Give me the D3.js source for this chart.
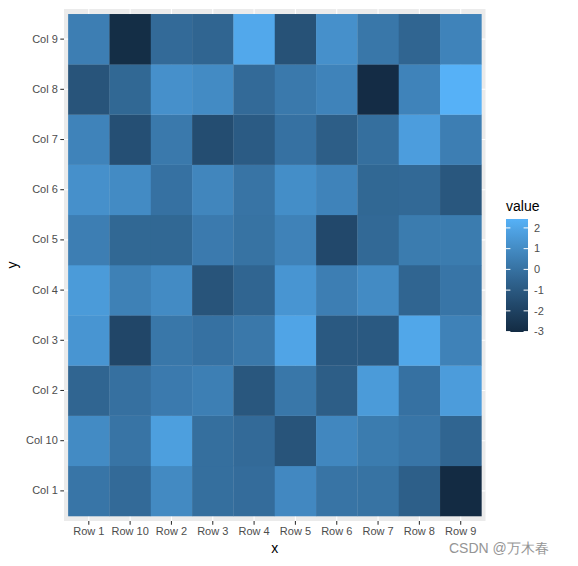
<!DOCTYPE html>
<html><head><meta charset="utf-8">
<script src="https://cdn.jsdelivr.net/npm/d3@7"></script>
<style>body{margin:0;background:#fff;} text{font-family:"Liberation Sans",Arial,Helvetica,sans-serif;}</style>
</head><body>
<svg id="c" width="578" height="566"></svg>
<script>
const xCats = ["Row 1","Row 10","Row 2","Row 3","Row 4","Row 5","Row 6","Row 7","Row 8","Row 9"];
const yCats = ["Col 1","Col 10","Col 2","Col 3","Col 4","Col 5","Col 6","Col 7","Col 8","Col 9"];
// values per y category (row of tiles), ordered like xCats
const colVals = {
  "Col 9":  [0.5,-2.9,-0.3,-0.5,2.1,-1.3,1.2,0.2,-0.5,0.7],
  "Col 8":  [-1.2,-0.4,1.2,1.0,-0.3,0.3,0.7,-2.95,0.7,2.43],
  "Col 7":  [0.7,-1.4,0.3,-1.5,-0.9,0.0,-0.8,-0.1,1.7,0.5],
  "Col 6":  [1.2,1.0,0.0,0.8,0.1,1.1,0.7,-0.4,-0.35,-1.1],
  "Col 5":  [0.5,-0.4,-0.4,0.35,0.05,0.65,-1.7,-0.35,0.4,0.4],
  "Col 4":  [1.6,0.6,1.0,-1.2,-0.5,1.4,0.5,1.0,-0.5,0.15],
  "Col 3":  [1.4,-1.8,0.2,0.0,0.25,1.95,-1.0,-1.0,2.05,0.65],
  "Col 2":  [-0.5,-0.05,0.35,0.55,-1.1,0.2,-0.8,1.6,0.0,1.65],
  "Col 10": [1.0,0.1,1.75,-0.1,-0.3,-1.2,0.85,0.4,0.15,-0.5],
  "Col 1":  [0.15,-0.3,0.95,-0.1,-0.2,0.9,0.1,0.05,-0.75,-3.02]
};
const legendBreaks = [2,1,0,-1,-2,-3];

const data = [];
yCats.forEach(yc => colVals[yc].forEach((v,i) => data.push({x:xCats[i], y:yc, value:v})));

const svg = d3.select("#c");
const L=64, R=485.5, T=9, B=521;
const x = d3.scaleBand().domain(xCats).range([L,R]).paddingInner(0).paddingOuter(0.1);
const y = d3.scaleBand().domain(yCats).range([B,T]).paddingInner(0).paddingOuter(0.1);
const ext = d3.extent(data, d=>d.value);
const color = d3.scaleLinear().domain(ext).range(["#132B43","#56B1F7"]).interpolate(d3.interpolateLab);

// panel
svg.append("rect").attr("x",L).attr("y",T).attr("width",R-L).attr("height",B-T).attr("fill","#EBEBEB");
const g = svg.append("g");
xCats.forEach(c=>g.append("line").attr("x1",x(c)+x.bandwidth()/2).attr("x2",x(c)+x.bandwidth()/2).attr("y1",T).attr("y2",B).attr("stroke","#fff").attr("stroke-width",1.07));
yCats.forEach(c=>g.append("line").attr("y1",y(c)+y.bandwidth()/2).attr("y2",y(c)+y.bandwidth()/2).attr("x1",L).attr("x2",R).attr("stroke","#fff").attr("stroke-width",1.07));

svg.append("g").selectAll("rect").data(data).join("rect")
  .attr("x",d=>x(d.x)).attr("y",d=>y(d.y))
  .attr("width",x.bandwidth()+0.3).attr("height",y.bandwidth()+0.3)
  .attr("fill",d=>color(d.value));

// axes
const xa = svg.append("g").attr("transform",`translate(0,${B})`).call(d3.axisBottom(x).tickSize(3.7).tickPadding(2.5));
const ya = svg.append("g").attr("transform",`translate(${L},0)`).call(d3.axisLeft(y).tickSize(3.7).tickPadding(2.5));
[xa,ya].forEach(a=>{
  a.select(".domain").remove();
  a.selectAll(".tick line").attr("stroke","#333").attr("stroke-width",1.07);
  a.selectAll(".tick text").attr("fill","#4D4D4D").style("font-size","11px");
});
svg.append("text").attr("x",(L+R)/2).attr("y",553).attr("text-anchor","middle").style("font-size","14px").attr("fill","#000").text("x");
svg.append("text").attr("transform",`translate(17,${(T+B)/2}) rotate(-90)`).attr("text-anchor","middle").style("font-size","14px").attr("fill","#000").text("y");

// legend
const lx=506, lw=22, ly0=219, ly1=332;
const ls = d3.scaleLinear().domain(ext).range([ly1,ly0]);
const defs = svg.append("defs");
const grad = defs.append("linearGradient").attr("id","lg").attr("x1",0).attr("x2",0).attr("y1",1).attr("y2",0);
d3.range(0,1.0001,0.05).forEach(t=>grad.append("stop").attr("offset",t).attr("stop-color",color(ext[0]+t*(ext[1]-ext[0]))));
svg.append("rect").attr("x",lx).attr("y",ly0).attr("width",lw).attr("height",ly1-ly0).attr("fill","url(#lg)");
svg.append("text").attr("x",lx).attr("y",211).style("font-size","14px").attr("fill","#000").text("value");
legendBreaks.forEach(b=>{
  const yy = ls(b);
  svg.append("line").attr("x1",lx).attr("x2",lx+4.4).attr("y1",yy).attr("y2",yy).attr("stroke","#fff").attr("stroke-width",1);
  svg.append("line").attr("x1",lx+lw-4.4).attr("x2",lx+lw).attr("y1",yy).attr("y2",yy).attr("stroke","#fff").attr("stroke-width",1);
  svg.append("text").attr("x",lx+lw+6).attr("y",yy).attr("dy","0.35em").style("font-size","11px").attr("fill","#4D4D4D").text(b);
});
svg.append("text").attr("x",449).attr("y",553).attr("text-anchor","start").style("font-size","14px").attr("fill","#8a8a8a").attr("opacity",0.9).text("CSDN @万木春");
</script>
</body></html>
